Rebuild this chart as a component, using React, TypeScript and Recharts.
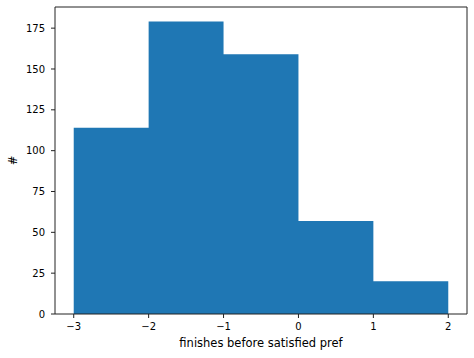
import React from 'react';
import { ComposedChart, Area, XAxis, YAxis, ReferenceLine, Label } from 'recharts';

const binEdges = [-3, -2, -1, 0, 1, 2];
const counts = [114, 179, 159, 57, 20];
const xTicks = [-3, -2, -1, 0, 1, 2];
const yTicks = [0, 25, 50, 75, 100, 125, 150, 175];
const xLabel = 'finishes before satisfied pref';
const yLabel = '#';

const data = binEdges.map((e, i) => ({ edge: e, count: counts[Math.min(i, counts.length - 1)] }));

const xMin = -3.25;
const xMax = 2.25;
const yMax = Math.max(...counts) * 1.05;

const FONT = 'DejaVu Sans';
const fmt = (v: number) => String(v).replace('-', '\u2212');

export default function App() {
  return (
    <div style={{ position: 'absolute', left: 0, top: 0, background: '#fff' }}>
      <ComposedChart
        width={474}
        height={358}
        data={data}
        margin={{ top: 7, right: 7, left: 0, bottom: 0 }}
      >
        <XAxis
          dataKey="edge"
          type="number"
          domain={[xMin, xMax]}
          ticks={xTicks}
          allowDataOverflow
          tickFormatter={fmt}
          height={44}
          tickSize={4}
          tickMargin={5}
          stroke="#222"
          tick={{ fill: '#000', fontSize: 10, fontFamily: FONT }}
          interval={0}
        >
          <Label
            value={xLabel}
            position="insideBottom"
            offset={11}
            style={{ fontSize: 11.5, fontFamily: FONT, fill: '#000' }}
          />
        </XAxis>
        <YAxis
          type="number"
          domain={[0, yMax]}
          ticks={yTicks}
          allowDataOverflow
          width={55}
          tickSize={4}
          tickMargin={6}
          stroke="#222"
          tick={{ fill: '#000', fontSize: 10, fontFamily: FONT }}
          interval={0}
        >
          <Label
            value={yLabel}
            angle={-90}
            position="insideLeft"
            offset={13}
            style={{ fontSize: 11.5, fontFamily: FONT, fill: '#000', textAnchor: 'middle' }}
          />
        </YAxis>
        <Area
          type="stepAfter"
          dataKey="count"
          fill="#1f77b4"
          fillOpacity={1}
          stroke="none"
          isAnimationActive={false}
          dot={false}
          activeDot={false}
        />
        <ReferenceLine y={yMax} stroke="#222" />
        <ReferenceLine x={xMax} stroke="#222" />
      </ComposedChart>
    </div>
  );
}
